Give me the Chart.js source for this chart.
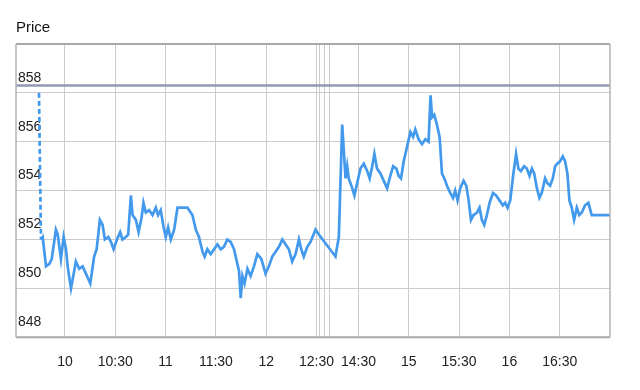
<!DOCTYPE html>
<html>
<head>
  <title>Price</title>
  <script src="https://cdn.jsdelivr.net/npm/chart.js"></script>
<style>
body {
  margin: 0;
  background: #ffffff;
}
</style>
</head>
<body>

  <canvas id="priceChart" width="640" height="390"></canvas>

  <script>
    // x = minutes on the compressed trading axis (0 = 10:00), y = price
    const tickPos  = [0, 30, 60, 90, 120, 150, 152, 155, 158, 175, 205, 235, 265, 295];
    const tickText = ['10', '10:30', '11', '11:30', '12', '12:30', '', '', '', '14:30', '15', '15:30', '16', '16:30'];
    const prevClose = 858.3;

    const mins = [
      -15.5, -14.3, -13.3, -11.3, -9.3, -7.9, -5.4, -4.3, -2.4, -0.8,
      0.6, 1.6, 3.6, 5.2, 6.5, 8.5, 10.5, 12.5, 15.1, 17.4,
      18.9, 20.8, 22.4, 23.8, 25.8, 27.4, 29.0, 31.0, 32.9, 34.3,
      36.3, 37.7, 39.3, 40.3, 42.3, 43.9, 45.7, 46.8, 48.2, 50.2,
      52.2, 54.2, 55.5, 57.1, 58.8, 60.1, 61.5, 63.1, 65.1, 67.1,
      69.0, 71.0, 73.0, 76.0, 78.0, 79.9, 82.0, 83.3, 84.9, 86.9,
      88.9, 90.9, 92.9, 94.8, 96.8, 98.8, 100.8, 102.8, 103.8, 104.8,
      105.8, 107.1, 108.8, 110.7, 112.7, 114.7, 117.1, 119.6, 121.6, 123.6,
      125.6, 127.6, 129.6, 131.5, 133.5, 135.5, 137.5, 139.5, 140.9, 142.4,
      144.5, 146.4, 149.4, 151.4, 161.3, 163.3, 165.3, 166.3, 167.3, 168.3,
      169.2, 171.3, 172.6, 174.2, 176.2, 178.2, 180.2, 181.7, 183.2, 184.5,
      186.1, 188.1, 190.1, 192.1, 194.0, 195.7, 197.6, 199.0, 200.4, 202.0,
      204.0, 206.0, 207.6, 208.9, 210.9, 212.9, 214.9, 216.8, 218.0, 218.9,
      220.2, 221.8, 223.4, 224.8, 226.2, 227.8, 229.8, 231.4, 232.7, 234.1,
      235.7, 237.7, 239.3, 240.7, 242.1, 243.6, 245.7, 247.2, 248.6, 250.0,
      251.6, 253.2, 255.2, 257.1, 259.1, 261.1, 262.5, 263.9, 265.5, 267.4,
      269.0, 270.4, 271.8, 273.8, 275.4, 277.0, 278.4, 279.8, 281.4, 282.9,
      284.3, 286.3, 287.7, 289.3, 290.9, 292.3, 293.6, 295.2, 296.8, 298.2,
      299.6, 300.8, 302.2, 303.6, 305.2, 306.7, 308.2, 310.1, 312.1, 314.1,
      316.1, 319.0, 325.0
    ];
    const prices = [
      858.0, 852.0, 852.1, 850.9, 851.0, 851.2, 852.4, 852.2, 851.2, 852.1,
      851.6, 850.9, 850.0, 850.6, 851.1, 850.8, 850.9, 850.6, 850.2, 851.3,
      851.6, 852.8, 852.6, 852.0, 852.1, 851.9, 851.6, 852.0, 852.3, 852.0,
      852.1, 852.2, 853.8, 853.0, 852.8, 852.3, 852.9, 853.5, 853.1, 853.2,
      853.0, 853.3, 853.0, 853.2, 852.5, 852.1, 852.5, 852.0, 852.4, 853.3,
      853.3, 853.3, 853.3, 853.0, 852.4, 852.1, 851.5, 851.3, 851.6, 851.4,
      851.6, 851.8, 851.6, 851.7, 852.0, 851.9, 851.6, 851.0, 850.7, 849.6,
      850.5, 850.2, 850.8, 850.5, 850.9, 851.4, 851.2, 850.6, 850.9, 851.3,
      851.5, 851.7, 852.0, 851.8, 851.6, 851.1, 851.4, 852.0, 851.6, 851.3,
      851.7, 851.9, 852.4, 852.2, 851.3, 852.1, 856.7, 855.6, 854.5, 855.0,
      854.5, 854.1, 853.8, 854.3, 854.9, 855.1, 854.8, 854.5, 855.0, 855.5,
      854.9, 854.7, 854.4, 854.1, 854.6, 855.0, 854.9, 854.6, 854.5, 855.2,
      855.8, 856.4, 856.2, 856.5, 856.1, 855.9, 856.1, 856.0, 857.9, 857.0,
      857.1, 856.7, 856.2, 854.7, 854.5, 854.2, 853.9, 853.7, 854.0, 853.6,
      854.1, 854.4, 854.2, 853.6, 852.8, 853.0, 853.1, 853.3, 852.8, 852.6,
      853.0, 853.5, 853.9, 853.8, 853.6, 853.4, 853.5, 853.3, 853.6, 854.7,
      855.5, 854.9, 854.8, 855.0, 854.9, 854.6, 854.9, 854.7, 854.1, 853.7,
      853.9, 854.5, 854.3, 854.2, 854.5, 855.0, 855.1, 855.2, 855.4, 855.2,
      854.7, 853.6, 853.3, 852.8, 853.3, 853.0, 853.1, 853.4, 853.5, 853.0,
      853.0, 853.0, 853.0
    ];

    const xMin = -29.2, xMax = 325;

    // frame around the plot area
    const frame = {
      id: 'frame',
      afterDatasetsDraw(chart) {
        const a = chart.chartArea, c = chart.ctx;
        c.save();
        c.strokeStyle = '#a9a9a9';
        c.lineWidth = 2;
        c.beginPath();
        c.moveTo(a.left, a.top); c.lineTo(a.right, a.top);
        c.moveTo(a.left, a.bottom); c.lineTo(a.right, a.bottom);
        c.stroke();
        c.lineWidth = 1.5;
        c.strokeStyle = '#b4b4b4';
        c.beginPath();
        c.moveTo(a.left, a.top); c.lineTo(a.left, a.bottom);
        c.moveTo(a.right, a.top); c.lineTo(a.right, a.bottom);
        c.stroke();
        c.restore();
      }
    };

    const ctx = document.getElementById('priceChart').getContext('2d');
    new Chart(ctx, {
      type: 'line',
      data: {
        datasets: [
          {
            label: 'Price',
            data: mins.map((m, i) => ({ x: m, y: prices[i] })),
            borderColor: '#4399ec',
            borderWidth: 2.7,
            pointRadius: 0,
            tension: 0,
            segment: {
              borderDash: c => c.p0DataIndex === 0 ? [5, 3] : undefined
            },
            order: 1
          },
          {
            label: 'Previous close',
            data: [{ x: xMin, y: prevClose }, { x: xMax, y: prevClose }],
            borderColor: '#8e9bb0',
            borderWidth: 2.5,
            pointRadius: 0,
            order: 2
          }
        ]
      },
      options: {
        responsive: false,
        animation: false,
        layout: { padding: { left: 16, right: 30, bottom: 2 } },
        plugins: {
          legend: { display: false },
          tooltip: { enabled: false },
          title: {
            display: true,
            text: 'Price',
            align: 'start',
            color: '#111',
            font: { family: 'Liberation Sans, Arial, sans-serif', size: 15, weight: 'normal' },
            padding: { top: 19, bottom: 7 }
          }
        },
        scales: {
          x: {
            type: 'linear',
            min: xMin,
            max: xMax,
            afterBuildTicks: s => { s.ticks = tickPos.map(v => ({ value: v })); },
            afterFit: s => { s.paddingLeft = 0; s.paddingRight = 0; },
            ticks: {
              autoSkip: false,
              maxRotation: 0,
              padding: 17,
              color: '#222',
              font: { family: 'Liberation Sans, Arial, sans-serif', size: 14 },
              callback: v => tickText[tickPos.indexOf(v)]
            },
            grid: { color: '#cccccc', drawTicks: false },
            border: { display: false }
          },
          y: {
            min: 848,
            max: 860,
            afterFit: s => { s.width = 0; },
            ticks: {
              stepSize: 2,
              mirror: true,
              padding: 2,
              labelOffset: -15,
              color: '#222',
              font: { family: 'Liberation Sans, Arial, sans-serif', size: 14 },
              callback: v => v >= 860 ? '' : v
            },
            grid: { color: '#cccccc', drawTicks: false },
            border: { display: false }
          }
        }
      },
      plugins: [frame]
    });
  </script>

</body>
</html>
